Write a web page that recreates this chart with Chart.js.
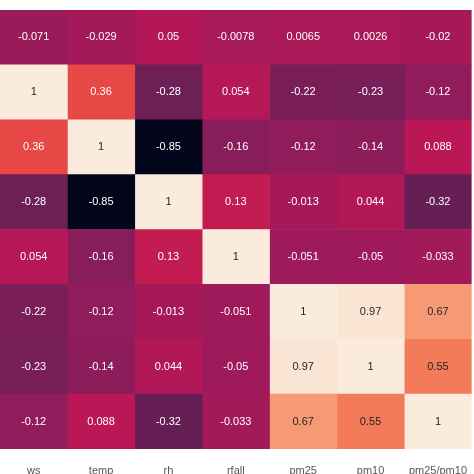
<!DOCTYPE html>
<html><head><meta charset="utf-8">
<script src="https://cdn.jsdelivr.net/npm/chart.js@4"></script>
<style>html,body{margin:0;background:#fff}#wrap{width:474px;height:474px}</style>
</head><body><div id="wrap"><canvas id="c"></canvas></div>
<script>
var cols = ['ws', 'temp', 'rh', 'rfall', 'pm25', 'pm10', 'pm25/pm10'];
var rows = ['wd', 'ws', 'temp', 'rh', 'rfall', 'pm25', 'pm10', 'pm25/pm10'];
var matrix = [
    [-0.071, -0.029, 0.05, -0.0078, 0.0065, 0.0026, -0.02],
    [1, 0.36, -0.28, 0.054, -0.22, -0.23, -0.12],
    [0.36, 1, -0.85, -0.16, -0.12, -0.14, 0.088],
    [-0.28, -0.85, 1, 0.13, -0.013, 0.044, -0.32],
    [0.054, -0.16, 0.13, 1, -0.051, -0.05, -0.033],
    [-0.22, -0.12, -0.013, -0.051, 1, 0.97, 0.67],
    [-0.23, -0.14, 0.044, -0.05, 0.97, 1, 0.55],
    [-0.12, 0.088, -0.32, -0.033, 0.67, 0.55, 1]
];
var vmin = -0.85, vmax = 1;

// rocket colormap, rough anchors
var rocket = [[3,5,26],[34,19,49],[69,28,71],[106,31,86],[146,28,91],[185,22,87],[220,42,72],[240,96,67],[246,144,106],[247,190,161],[250,235,221]];
function colour(v)
{
    var t = (v - vmin) / (vmax - vmin);
    t = Math.max(0, Math.min(1, t)) * (rocket.length - 1);
    var i = Math.min(Math.floor(t), rocket.length - 2);
    var f = t - i;
    var c = [0,1,2].map(function(k){ return Math.round(rocket[i][k] + (rocket[i+1][k] - rocket[i][k]) * f); });
    return 'rgb(' + c.join(',') + ')';
}

var datasets = [];
for (var j = 0; j < cols.length; j++)
{
    datasets.push({
        data: rows.map(function(){ return 1; }),
        backgroundColor: matrix.map(function(r){ return colour(r[j]); }),
        borderWidth: 0,
        barPercentage: 1,
        categoryPercentage: 1
    });
}

var cellText = {
    id: 'cellText',
    afterDatasetsDraw: function(chart)
    {
        var ctx = chart.ctx;
        ctx.save();
        ctx.font = '11px "Liberation Sans", Arial, sans-serif';
        ctx.textAlign = 'center';
        ctx.textBaseline = 'middle';
        var xs = chart.scales.x, ys = chart.scales.y;
        for (var i = 0; i < rows.length; i++)
        {
            for (var j = 0; j < cols.length; j++)
            {
                var v = matrix[i][j];
                ctx.fillStyle = v > 0.5 ? '#262626' : '#ffffff';
                ctx.fillText(String(v), xs.getPixelForValue(j + 0.5), ys.getPixelForValue(i));
            }
        }
        ctx.restore();
    }
};

new Chart(document.getElementById('c').getContext('2d'),
{
    type: 'bar',
    data: { labels: rows, datasets: datasets },
    plugins: [cellText],
    options:
    {
        indexAxis: 'y',
        responsive: true,
        maintainAspectRatio: false,
        animation: false,
        layout: { padding: { top: 10, left: 0, right: 0, bottom: 0 } },
        plugins: { legend: { display: false }, tooltip: { enabled: false } },
        scales:
        {
            x:
            {
                type: 'linear', stacked: true, min: 0, max: 7,
                grid: { display: false }, border: { display: false },
                afterBuildTicks: function(s){ s.ticks = cols.map(function(c, k){ return { value: k + 0.5 }; }); },
                afterFit: function(s){ s.height = 25; },
                ticks:
                {
                    padding: 7,
                    color: '#555',
                    font: { size: 11, family: '"Liberation Sans", Arial, sans-serif' },
                    callback: function(v){ return cols[Math.round(v - 0.5)]; }
                }
            },
            y:
            {
                stacked: true, display: false
            }
        }
    }
});
</script></body></html>
